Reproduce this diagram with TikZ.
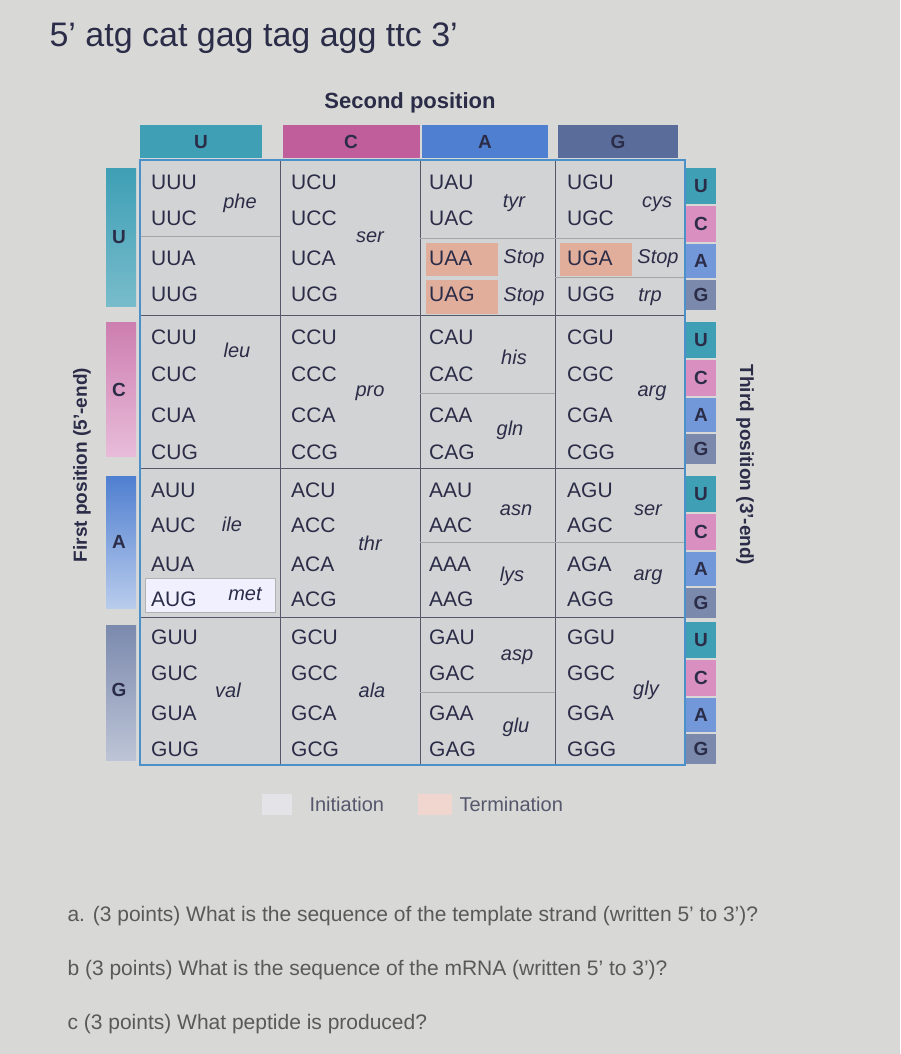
\documentclass[tikz,border=0pt]{standalone}
\usepackage{fontspec}
\setmainfont{Liberation Sans}
\definecolor{bg}{HTML}{D8D8D6}
\definecolor{cell}{HTML}{D2D3D4}
\definecolor{ink}{HTML}{2B2D48}
\definecolor{tealc}{HTML}{3E9FB5}
\definecolor{magc}{HTML}{C05E9C}
\definecolor{bluec}{HTML}{4F7FD0}
\definecolor{slatec}{HTML}{5A6C99}
\definecolor{pinkc}{HTML}{D98FC0}
\definecolor{stopc}{HTML}{E2AE9C}
\definecolor{frame}{HTML}{4B90C8}
\tikzset{
 codon/.style={anchor=west,font=\fontsize{21}{21}\selectfont,text=ink,inner sep=1pt},
 aa/.style={font=\fontsize{20}{20}\selectfont\itshape,text=ink,inner sep=1pt},
 hdr/.style={font=\fontsize{19}{19}\selectfont\bfseries,text=ink},
 sub/.style={draw=gray!70,line width=0.8pt},
}
\begin{document}
\begin{tikzpicture}[x=1pt,y=-1pt]
\fill[bg] (0,0) rectangle (900,1054);
\useasboundingbox (0,0) rectangle (900,1054);
\node[anchor=west,font=\fontsize{34}{34}\selectfont,text=ink] (title) at (46,38) {5' atg cat gag tag agg ttc 3'};
\node[font=\fontsize{22}{22}\selectfont\bfseries,text=ink] (second) at (410,103) {Second position};
% top headers
\fill[tealc] (140,125) rectangle (262,158); \node[hdr] (hU) at (201,142) {U};
\fill[magc] (283,125) rectangle (420,158); \node[hdr] (hC) at (351,142) {C};
\fill[bluec] (422,125) rectangle (548,158); \node[hdr] (hA) at (485,142) {A};
\fill[slatec] (558,125) rectangle (678,158); \node[hdr] (hG) at (618,142) {G};
% left bars
\shade[top color=tealc,bottom color=tealc!70] (106,168) rectangle (136,306); \node[hdr] (lU) at (119,237) {U};
\shade[top color=magc!80,bottom color=pinkc!60] (106,322) rectangle (136,456); \node[hdr] (lC) at (119,390) {C};
\shade[top color=bluec,bottom color=bluec!40] (106,476) rectangle (136,608); \node[hdr] (lA) at (119,542) {A};
\shade[top color=slatec!80,bottom color=slatec!40] (106,625) rectangle (136,760); \node[hdr] (lG) at (119,690) {G};
% table
\fill[cell] (140,160) rectangle (685,765);
\fill[stopc] (426,243) rectangle (498,276);
\fill[stopc] (426,280) rectangle (498,314);
\fill[stopc] (560,243) rectangle (632,276);
\fill[blue!6] (145,578) rectangle (275,612);
\draw[gray!60,line width=1pt] (145,578) rectangle (275,612);
\foreach \x in {280,420,555} \draw[ink!80,line width=1pt] (\x,160) -- (\x,765);
\foreach \y in {315,468,617} \draw[ink!80,line width=1pt] (140,\y) -- (685,\y);
\draw[sub] (140,236) -- (280,236);
\draw[sub] (420,238) -- (685,238);
\draw[sub] (555,277) -- (685,277);
\draw[sub] (420,393) -- (555,393);
\draw[sub] (420,542) -- (685,542);
\draw[sub] (420,692) -- (555,692);
\draw[frame,line width=1.5pt] (140,160) rectangle (685,765);
% codons
\foreach \a [count=\i] in {U,C,A,G}{
 \pgfmathsetmacro{\bx}{{150,290,428,566}[\i-1]}
 \foreach \f/\yy in {U/0,C/1,A/2,G/3}{
  \foreach \t/\r in {U/0,C/1,A/2,G/3}{
   \pgfmathsetmacro{\by}{{182,337,490,637}[\yy]+\r*{36,37,35,36}[\yy]+(\r>1)*4}
   \node[codon] (c\f\a\t) at (\bx,\by) {\f\a\t};
  }
 }
}
% amino acids
\node[aa] (phe) at (240,203) {phe};
\node[aa] (leu) at (237,350) {leu};
\node[aa] (ile) at (232,524) {ile};
\node[aa] (met) at (245,594) {met};
\node[aa] (val) at (228,690) {val};
\node[aa] (ser1) at (370,237) {ser};
\node[aa] (pro) at (370,393) {pro};
\node[aa] (thr) at (370,543) {thr};
\node[aa] (ala) at (372,690) {ala};
\node[aa] (tyr) at (514,203) {tyr};
\node[aa] (stop1) at (524,259) {Stop};
\node[aa] (stop2) at (524,297) {Stop};
\node[aa] (his) at (514,357) {his};
\node[aa] (gln) at (510,430) {gln};
\node[aa] (asn) at (516,510) {asn};
\node[aa] (lys) at (512,576) {lys};
\node[aa] (asp) at (517,657) {asp};
\node[aa] (glu) at (516,727) {glu};
\node[aa] (cys) at (657,204) {cys};
\node[aa] (stop3) at (658,259) {Stop};
\node[aa] (trp) at (650,297) {trp};
\node[aa] (arg1) at (652,393) {arg};
\node[aa] (ser2) at (648,510) {ser};
\node[aa] (arg2) at (648,577) {arg};
\node[aa] (gly) at (646,690) {gly};
% right third-position boxes
\foreach \b/\y in {1/168,2/322,3/476,4/622}{
 \fill[tealc] (686,\y) rectangle (716,\y+36); \node[hdr] (rU\b) at (701,\y+18) {U};
 \fill[pinkc] (686,\y+38) rectangle (716,\y+74); \node[hdr] (rC\b) at (701,\y+56) {C};
 \fill[bluec!80] (686,\y+76) rectangle (716,\y+110); \node[hdr] (rA\b) at (701,\y+93) {A};
 \fill[slatec!80] (686,\y+112) rectangle (716,\y+142); \node[hdr] (rG\b) at (701,\y+127) {G};
}
\node[rotate=90,font=\fontsize{19}{19}\selectfont\bfseries,text=ink] (first) at (82,465) {First position (5'-end)};
\node[rotate=-90,font=\fontsize{19}{19}\selectfont\bfseries,text=ink] (third) at (745,465) {Third position (3'-end)};
% legend
\fill[blue!10!gray!20] (262,794) rectangle (292,815);
\node[anchor=west,font=\fontsize{20}{20}\selectfont,text=ink!80] (init) at (306,804) {Initiation};
\fill[stopc!50] (418,794) rectangle (452,815);
\node[anchor=west,font=\fontsize{20}{20}\selectfont,text=ink!80] (term) at (456,804) {Termination};
% questions
\tikzset{q/.style={anchor=west,font=\fontsize{21}{21}\selectfont,text=black!65}}
\node[q] (qa) at (64,916) {a. (3 points) What is the sequence of the template strand  (written 5' to 3')?};
\node[q] (qb) at (64,970) {b (3 points) What is the sequence of the mRNA (written 5' to 3')?};
\node[q] (qc) at (64,1024) {c (3 points) What peptide is produced?};
\end{tikzpicture}
\end{document}
